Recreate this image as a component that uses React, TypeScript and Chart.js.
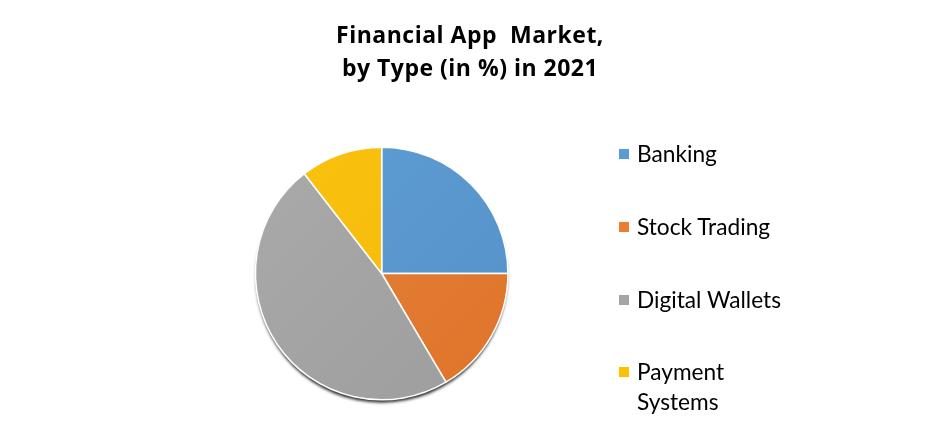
import React, { useEffect, useRef } from "react";
import { Chart, registerables } from "chart.js";

Chart.register(...registerables);

const categories = ["Banking", "Stock Trading", "Digital Wallets", "Payment Systems"];
const legendLines = [["Banking"], ["Stock Trading"], ["Digital Wallets"], ["Payment", "Systems"]];
const shares = [25, 16.5, 48, 10.5];
const colorsLight = ["#5E9DD6", "#E5823A", "#AAAAAA", "#FAC10E"];
const colorsDark = ["#5691C8", "#DF742A", "#9D9D9D", "#F4BA0C"];
const legendColors = ["#5B9BD5", "#ED7D31", "#A5A5A5", "#FFC000"];
const titleLines = ["Financial App\u00a0\u00a0Market,", "by Type (in %) in 2021"];

const FONT = "Lato, 'Open Sans', sans-serif";

const shadowPlugin = {
  id: "pieShadow",
  beforeDatasetsDraw(chart: any) {
    const meta = chart.getDatasetMeta(0);
    const arc = meta.data[0];
    if (!arc) return;
    const { x, y, outerRadius } = arc.getProps(["x", "y", "outerRadius"], true);
    const ctx = chart.ctx;
    ctx.save();
    ctx.shadowColor = "rgba(0,0,0,0.8)";
    ctx.shadowBlur = 3;
    ctx.shadowOffsetY = 3.5;
    ctx.beginPath();
    ctx.arc(x, y, outerRadius - 0.5, 0, Math.PI * 2);
    ctx.fillStyle = "#666";
    ctx.fill();
    ctx.restore();
  },
};

export default function App() {
  const ref = useRef<HTMLCanvasElement>(null);
  useEffect(() => {
    document.body.style.margin = "0";
    const ctx = ref.current!.getContext("2d")!;
    const chart = new Chart(ctx, {
      type: "pie",
      data: {
        labels: categories,
        datasets: [
          {
            data: shares,
            backgroundColor: (c: any) => {
              const area = c.chart.chartArea;
              if (!area) return colorsLight[c.dataIndex];
              const g = c.chart.ctx.createLinearGradient(area.left, area.top, area.right, area.bottom);
              g.addColorStop(0, colorsLight[c.dataIndex]);
              g.addColorStop(1, colorsDark[c.dataIndex]);
              return g;
            },
            borderColor: "#FFFFFF",
            borderWidth: 1.5,
          },
        ],
      },
      options: {
        animation: false,
        responsive: false,
        maintainAspectRatio: false,
        layout: { padding: { left: 254.7, right: 431.3, top: 146.5, bottom: 46.5 } },
        plugins: {
          legend: { display: false },
          title: { display: false },
          tooltip: { enabled: false },
        },
      },
      plugins: [shadowPlugin],
    });
    return () => chart.destroy();
  }, []);

  return (
    <div style={{ position: "fixed", left: 0, top: 0, width: 940, height: 447, background: "#fff", fontFamily: FONT }}>
      <canvas ref={ref} width={940} height={447} style={{ position: "absolute", left: 0, top: 0 }} />
      <div
        style={{
          position: "absolute",
          left: 0,
          width: 940,
          top: 18,
          textAlign: "center",
          fontFamily: "'Open Sans', sans-serif",
          fontWeight: 700,
          fontSize: 23,
          letterSpacing: "0.5px",
          lineHeight: "33px",
          color: "#000",
        }}
      >
        {titleLines.map((t, i) => (
          <div key={i}>{t}</div>
        ))}
      </div>
      {categories.map((c, i) => (
        <div key={c} style={{ position: "absolute", left: 619, top: [139, 212, 285, 357][i] }}>
          <div
            style={{
              position: "absolute",
              left: 0,
              top: 10,
              width: 10,
              height: 10,
              background: legendColors[i],
            }}
          />
          <div style={{ position: "absolute", left: 18, top: 0, fontSize: 22.7, lineHeight: "30px", color: "#000", whiteSpace: "nowrap" }}>
            {legendLines[i].map((l, j) => (
              <div key={j}>{l}</div>
            ))}
          </div>
        </div>
      ))}
    </div>
  );
}
